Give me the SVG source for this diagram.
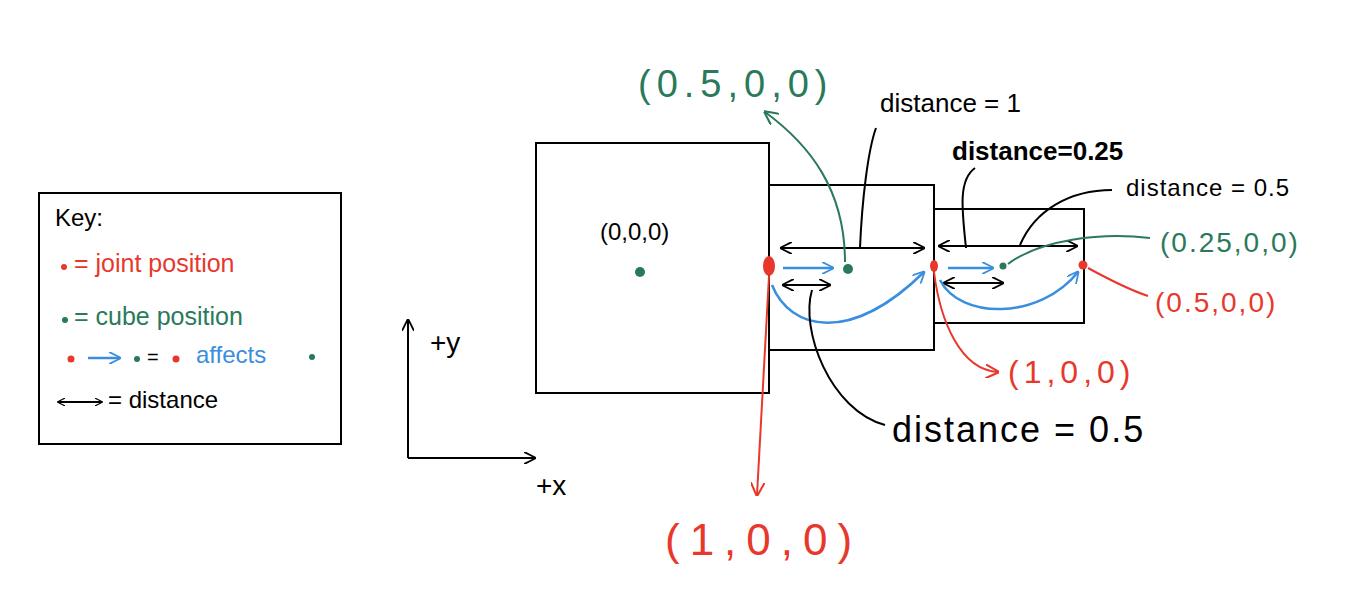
<svg xmlns="http://www.w3.org/2000/svg" width="1365" height="611" viewBox="0 0 1365 611">
<style>
.box{fill:none;stroke:#000;stroke-width:2}
.k{fill:none;stroke:#000;stroke-width:2}
.r{fill:none;stroke:#e8382c;stroke-width:2}
.g{fill:none;stroke:#2a7a5a;stroke-width:2}
.b{fill:none;stroke:#3a8ee0;stroke-width:2.5}
text{font-family:"Liberation Sans",sans-serif}
.tk{fill:#000}.tr{fill:#e8382c}.tg{fill:#2a7a5a}.tb{fill:#3a8ee0}
</style>
<defs>
<marker id="ak" viewBox="0 0 10 10" refX="9" refY="5" markerWidth="8" markerHeight="8" orient="auto-start-reverse" markerUnits="userSpaceOnUse"><path d="M0,0L10,5L0,10" fill="none" stroke="#000" stroke-width="1.5"/></marker>
<marker id="ar" viewBox="0 0 10 10" refX="9" refY="5" markerWidth="14" markerHeight="14" orient="auto" markerUnits="userSpaceOnUse"><path d="M0,0L10,5L0,10" fill="none" stroke="#e8382c" stroke-width="1.5"/></marker>
<marker id="ag" viewBox="0 0 10 10" refX="9" refY="5" markerWidth="14" markerHeight="14" orient="auto" markerUnits="userSpaceOnUse"><path d="M0,0L10,5L0,10" fill="none" stroke="#2a7a5a" stroke-width="1.5"/></marker>
<marker id="ab" viewBox="0 0 10 10" refX="9" refY="5" markerWidth="12" markerHeight="12" orient="auto" markerUnits="userSpaceOnUse"><path d="M0,0L10,5L0,10" fill="none" stroke="#3a8ee0" stroke-width="1.5"/></marker>
<marker id="ak2" viewBox="0 0 10 10" refX="9" refY="5" markerWidth="12" markerHeight="12" orient="auto-start-reverse" markerUnits="userSpaceOnUse"><path d="M0,0L10,5L0,10" fill="none" stroke="#000" stroke-width="1.5"/></marker>
</defs>
<g id="key">
<rect class="box" x="39" y="193" width="302" height="251"/>
<text x="55" y="226" font-size="24" class="tk">Key:</text>
<circle cx="64" cy="267" r="3" fill="#e8382c"/>
<text x="74" y="272" font-size="25" class="tr">= joint position</text>
<circle cx="65" cy="320" r="3" fill="#2a7a5a"/>
<text x="74" y="325" font-size="25" class="tg">= cube position</text>
<circle cx="71" cy="359" r="3.5" fill="#e8382c"/>
<line class="b" x1="88" y1="358" x2="120" y2="358" marker-end="url(#ab)" stroke-width="1.5"/>
<circle cx="137" cy="359" r="3" fill="#2a7a5a"/>
<text x="147" y="364" font-size="20" class="tk">=</text>
<circle cx="176" cy="359" r="3.5" fill="#e8382c"/>
<text x="196" y="363" font-size="24" class="tb">affects</text>
<circle cx="312" cy="357" r="3" fill="#2a7a5a"/>
<line class="k" x1="58" y1="402" x2="102" y2="402" marker-start="url(#ak)" marker-end="url(#ak)" stroke-width="1.5"/>
<text x="108" y="408" font-size="24" class="tk">= distance</text>
</g>
<g id="axes">
<line class="k" x1="408" y1="458" x2="408" y2="320" marker-end="url(#ak2)" stroke-width="1.5"/>
<line class="k" x1="408" y1="458" x2="535" y2="458" marker-end="url(#ak2)" stroke-width="1.5"/>
<text x="430" y="352" font-size="28" class="tk">+y</text>
<text x="536" y="495" font-size="28" class="tk">+x</text>
</g>
<g id="cube1"><rect class="box" x="536" y="143" width="233" height="250"/>
<text x="600" y="240" font-size="24" class="tk">(0,0,0)</text>
<circle cx="640" cy="272" r="5" fill="#2a7a5a"/></g>
<g id="cube2"><rect class="box" x="769" y="185" width="165" height="165"/>
<circle cx="848" cy="269" r="5" fill="#2a7a5a"/></g>
<g id="cube3"><rect class="box" x="934" y="209" width="150" height="114"/>
<circle cx="1003" cy="266" r="3.5" fill="#2a7a5a"/></g>
<g id="connectors">
<line class="k" x1="781" y1="248" x2="924" y2="248" marker-start="url(#ak2)" marker-end="url(#ak2)"/>
<line class="k" x1="783" y1="285" x2="830" y2="285" marker-start="url(#ak2)" marker-end="url(#ak2)"/>
<line class="k" x1="939" y1="246" x2="1077" y2="246" marker-start="url(#ak2)" marker-end="url(#ak2)"/>
<line class="k" x1="944" y1="283" x2="1003" y2="283" marker-start="url(#ak2)" marker-end="url(#ak2)"/>
<line class="b" x1="783" y1="268" x2="833" y2="268" marker-end="url(#ab)"/>
<line class="b" x1="948" y1="268" x2="993" y2="268" marker-end="url(#ab)"/>
<path class="b" d="M772,285 C790,330 850,345 924,272" marker-end="url(#ab)"/>
<path class="b" d="M940,280 C960,320 1040,320 1078,272" marker-end="url(#ab)"/>
<path class="g" d="M845,262 C845,190 810,145 765,112" marker-end="url(#ag)"/>
<path class="g" d="M1008,264 C1040,240 1100,232 1150,238"/>
<path class="k" d="M860,248 C862,200 868,150 876,128"/>
<path class="k" d="M966,248 C962,210 958,180 975,168"/>
<path class="k" d="M1020,245 C1035,210 1070,190 1112,190"/>
<path class="k" d="M812,290 C800,330 830,410 885,425"/>
<path class="r" d="M1088,268 C1110,280 1130,290 1148,296"/>
<path class="r" d="M934,272 C940,320 960,370 998,372" marker-end="url(#ar)"/>
<path class="r" d="M769,276 L757,495" marker-end="url(#ar)"/>
<ellipse cx="769" cy="266" rx="6" ry="10" fill="#e8382c"/>
<ellipse cx="934" cy="266" rx="4" ry="6" fill="#e8382c"/>
<circle cx="1083" cy="265" r="4.5" fill="#e8382c"/>
</g>
<g id="labels">
<text x="638" y="97" font-size="38" class="tg" letter-spacing="6">(0.5,0,0)</text>
<text x="880" y="112" font-size="26" class="tk">distance = 1</text>
<text x="952" y="160" font-size="26" font-weight="bold" class="tk">distance=0.25</text>
<text x="1126" y="196" font-size="24" class="tk" letter-spacing="1">distance = 0.5</text>
<text x="1160" y="252" font-size="28" class="tg" letter-spacing="2">(0.25,0,0)</text>
<text x="1155" y="312" font-size="28" class="tr" letter-spacing="2">(0.5,0,0)</text>
<text x="1008" y="383" font-size="32" class="tr" letter-spacing="5">(1,0,0)</text>
<text x="892" y="442" font-size="36" class="tk" letter-spacing="2">distance = 0.5</text>
<text x="665" y="555" font-size="44" class="tr" letter-spacing="10">(1,0,0)</text>
</g>
</svg>
